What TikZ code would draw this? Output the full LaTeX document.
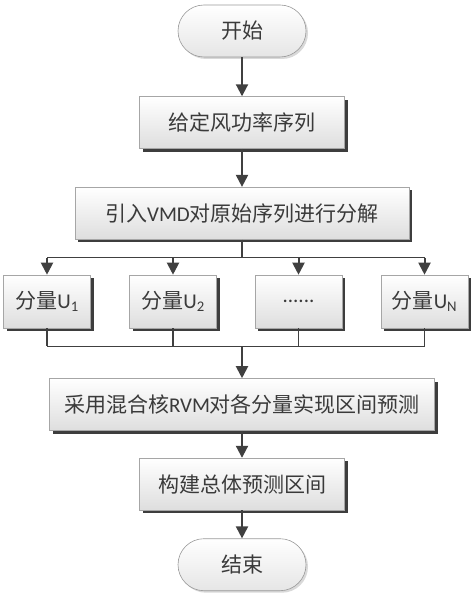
\documentclass[tikz,border=0pt]{standalone}
\usepackage{fontspec}
\setmainfont{Carlito}
\newfontfamily\cjk{Noto Sans CJK SC}
\usetikzlibrary{arrows.meta,positioning,shadows,calc}
\definecolor{inkgray}{RGB}{58,58,58}
\definecolor{linegray}{RGB}{64,64,64}
\definecolor{shadowgray}{RGB}{40,40,40}

\begin{document}
\begin{tikzpicture}[
    node distance=38pt,
    every node/.style={font=\fontsize{21}{25}\selectfont, text=inkgray},
    procbox/.style={draw=gray!70, line width=0.6pt, top color=white, bottom color=gray!26,
      minimum height=52pt, inner sep=2pt, align=center,
      drop shadow={shadow xshift=3pt, shadow yshift=-3pt, fill=shadowgray, opacity=0.9}},
    termbox/.style={draw=gray!80, line width=0.6pt, top color=white, bottom color=gray!20,
      rounded corners=26pt, minimum width=128pt, minimum height=52pt,
      drop shadow={shadow xshift=2pt, shadow yshift=-2pt, fill=gray!50, opacity=0.6}},
    flow/.style={draw=linegray, line width=2pt, -{Triangle[width=12pt,length=12pt]}},
    link/.style={draw=linegray, line width=1.6pt}
  ]
    \useasboundingbox (0,0) rectangle (474pt,-596pt);
    \node[termbox] (start) at (242pt,-31pt) {\cjk 开始};
    \node[procbox, minimum width=205pt, below=39pt of start] (series) {\cjk 给定风功率序列};
    \node[procbox, minimum width=334pt, below=of series] (vmd) {{\cjk 引入}VMD{\cjk 对原始序列进行分解}};
    % components
    \foreach \name/\xc/\txt in {u1/47/{{\cjk 分量}U\textsubscript{1}}, u2/173/{{\cjk 分量}U\textsubscript{2}},
        dots/298.5/{......}, un/424.5/{{\cjk 分量}U\textsubscript{N}}}
      \node[procbox, minimum width=87pt, minimum height=53pt] (\name) at (\xc pt,-301.5pt) {\txt};
    \node[procbox, minimum width=385pt] (rvm) at (242pt,-404.5pt) {{\cjk 采用混合核}RVM{\cjk 对各分量实现区间预测}};
    \node[procbox, minimum width=205pt, below=27pt of rvm] (total) {\cjk 构建总体预测区间};
    \node[termbox, below=28pt of total] (stop) {\cjk 结束};

    \coordinate (split) at ($(vmd.south)+(0,-18pt)$);
    \coordinate (merge) at ($(u1.south)+(0,-18pt)$);

    \draw[flow] (start) -- (series);
    \draw[flow] (series) -- (vmd);
    \draw[link] (vmd.south) -- (split);
    \draw[link] (u1.north |- split) -- (un.north |- split);
    \foreach \name in {u1,u2,dots,un} {
      \draw[flow] (\name.north |- split) -- (\name.north);
      \draw[link] (\name.south) -- (\name.south |- merge);
    }
    \draw[link] (u1.south |- merge) -- (un.south |- merge);
    \draw[flow] (merge -| rvm.north) -- (rvm.north);
    \draw[flow] (rvm) -- (total);
    \draw[flow] (total) -- (stop);
  \end{tikzpicture}
\end{document}
